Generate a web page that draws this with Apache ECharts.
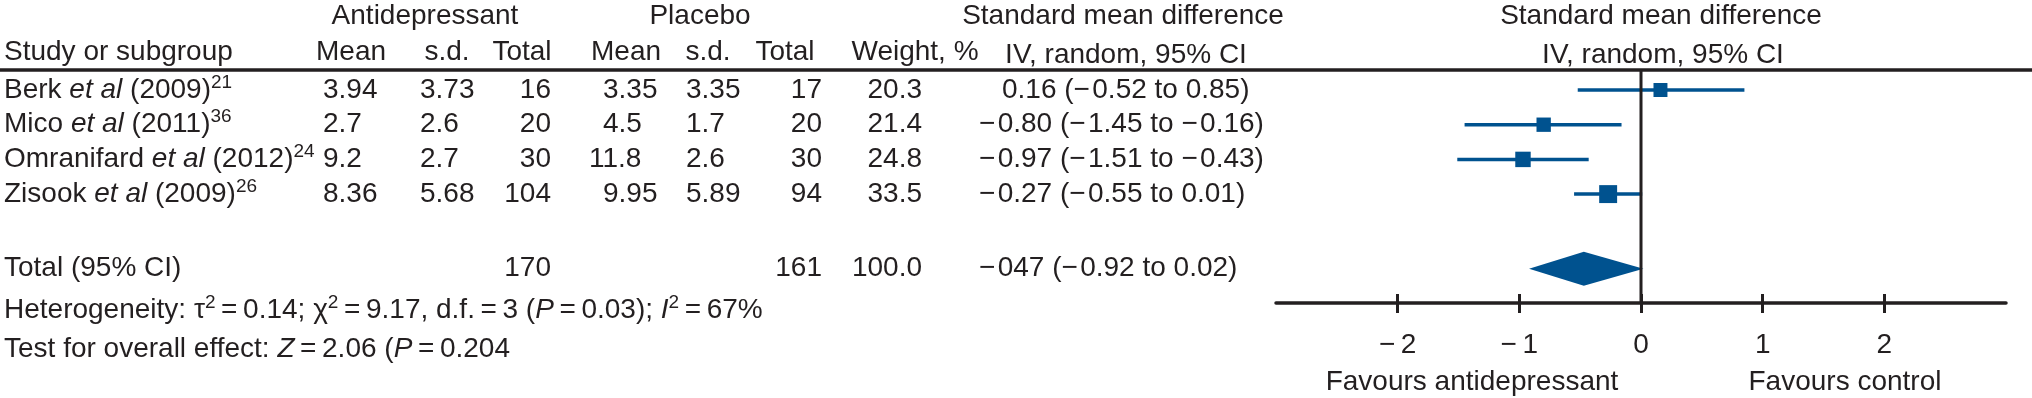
<!DOCTYPE html>
<html>
<head>
<meta charset="utf-8">
<script src="https://cdn.jsdelivr.net/npm/echarts@6.0.0/dist/echarts.min.js"></script>
<style>
html, body { margin: 0; padding: 0; background: #fff; }
#cn { width: 2032px; height: 398px; }
</style>
</head>
<body>
<div id="cn"></div>
<script>
'use strict';

// studies
const studyNames = ['Berk', 'Mico', 'Omranifard', 'Zisook'];
const studyYears = ['2009', '2011', '2012', '2009'];
const studyRefs = ['21', '36', '24', '26'];

// antidepressant arm
const antiMean = [3.94, 2.7, 9.2, 8.36];
const antiSd = [3.73, 2.6, 2.7, 5.68];
const antiN = [16, 20, 30, 104];

// placebo arm
const plaMean = [3.35, 4.5, 11.8, 9.95];
const plaSd = [3.35, 1.7, 2.6, 5.89];
const plaN = [17, 20, 30, 94];

// SMD, 95% CI, weight
const weight = [20.3, 21.4, 24.8, 33.5];
const smd = [0.16, -0.80, -0.97, -0.27];
const ciLow = [-0.52, -1.45, -1.51, -0.55];
const ciHigh = [0.85, -0.16, -0.43, 0.01];

// totals
const totalN = [170, 161];
const totalWeight = 100.0;
const pooled = [-0.47, -0.92, 0.02]; // est, low, high
const pooledText = '\u2212\u200a047 (\u2212\u200a0.92 to 0.02)'; // as printed

const xTicks = [-2, -1, 0, 1, 2];

const FONT = "'Liberation Sans', Arial, sans-serif";
const FS = 28;
const ink = '#231f20';
const blue = '#00528f';

// row layout
const rowTop = 90, rowH = 34.7;
const rowY = r => rowTop + r * rowH;
const totalRow = 5.15;
const gridTop = 70, gridBottomY = 303;

const rich = {
    i: { fontStyle: 'italic', fontSize: FS, fontFamily: FONT, fill: ink, lineHeight: 34 },
    sup: { fontSize: 19, fontFamily: FONT, fill: ink, verticalAlign: 'top' }
};

const txt = (text, x, y, align) => ({
    type: 'text',
    x: x,
    y: y,
    silent: true,
    style: {
        text: text,
        fill: ink,
        fontSize: FS,
        fontFamily: FONT,
        lineHeight: 34,
        align: align,
        textAlign: align,
        verticalAlign: 'middle',
        textVerticalAlign: 'middle',
        rich: rich
    }
});

const minus = v => (v < 0 ? '\u2212\u200a' : '') + Math.abs(v).toFixed(2);
const ciLabel = i => `${minus(smd[i])} (${minus(ciLow[i])} to ${minus(ciHigh[i])})`;

let graphics = [];

// header
graphics.push(txt('Antidepressant', 425, 16, 'center'));
graphics.push(txt('Placebo', 700, 16, 'center'));
graphics.push(txt('Standard mean difference', 1123, 16, 'center'));
graphics.push(txt('Standard mean difference', 1661, 16, 'center'));

graphics.push(txt('Study or subgroup', 4, 52, 'left'));
graphics.push(txt('Mean', 351, 52, 'center'));
graphics.push(txt('s.d.', 447, 52, 'center'));
graphics.push(txt('Total', 522, 52, 'center'));
graphics.push(txt('Mean', 626, 52, 'center'));
graphics.push(txt('s.d.', 708, 52, 'center'));
graphics.push(txt('Total', 785, 52, 'center'));
graphics.push(txt('Weight, %', 915, 52, 'center'));
graphics.push(txt('IV, random, 95% CI', 1126, 55, 'center'));
graphics.push(txt('IV, random, 95% CI', 1663, 55, 'center'));

// top rule
graphics.push({
    type: 'line',
    silent: true,
    shape: { x1: 0, y1: gridTop, x2: 2032, y2: gridTop },
    style: { stroke: ink, lineWidth: 3.5 }
});

// study rows
studyNames.forEach((name, i) => {
    const y = rowY(i);
    graphics.push(txt(`${name} {i|et al} (${studyYears[i]}){sup|${studyRefs[i]}}`, 4, y, 'left'));
    graphics.push(txt(String(antiMean[i]), 323, y, 'left'));
    graphics.push(txt(String(antiSd[i]), 420, y, 'left'));
    graphics.push(txt(String(antiN[i]), 551, y, 'right'));
    graphics.push(txt(String(plaMean[i]), plaMean[i] >= 10 ? 589 : 603, y, 'left'));
    graphics.push(txt(String(plaSd[i]), 686, y, 'left'));
    graphics.push(txt(String(plaN[i]), 822, y, 'right'));
    graphics.push(txt(weight[i].toFixed(1), 922, y, 'right'));
    graphics.push(txt(ciLabel(i), smd[i] < 0 ? 979 : 1002, y, 'left'));
});

// totals
const yT = rowY(totalRow);
graphics.push(txt('Total (95% CI)', 4, yT, 'left'));
graphics.push(txt(String(totalN[0]), 551, yT, 'right'));
graphics.push(txt(String(totalN[1]), 822, yT, 'right'));
graphics.push(txt(totalWeight.toFixed(1), 922, yT, 'right'));
graphics.push(txt(pooledText, 979, yT, 'left'));

graphics.push(txt('Heterogeneity: \u03c4{sup|2}\u2009=\u20090.14; \u03c7{sup|2}\u2009=\u20099.17, d.f.\u2009=\u20093 ({i|P}\u2009=\u20090.03); {i|I}{sup|2}\u2009=\u200967%', 4, 310, 'left'));
graphics.push(txt('Test for overall effect: {i|Z}\u2009=\u20092.06 ({i|P}\u2009=\u20090.204', 4, 349, 'left'));

// favours
graphics.push(txt('Favours antidepressant', 1472, 382, 'center'));
graphics.push(txt('Favours control', 1845, 382, 'center'));

const yMin = (gridTop - rowTop) / rowH;
const yMax = (gridBottomY - rowTop) / rowH;

const chart = echarts.init(document.getElementById('cn'), null, { renderer: 'canvas' });

const option = {
    animation: false,
    backgroundColor: '#fff',
    grid: {
        left: 1276,
        right: 26,
        top: gridTop,
        height: gridBottomY - gridTop
    },
    xAxis: [{
            type: 'value',
            min: -3,
            max: 3,
            position: 'bottom',
            splitLine: { show: false },
            axisLine: { show: true, onZero: false, lineStyle: { color: ink, width: 3.5 } },
            axisTick: {
                show: true,
                customValues: xTicks,
                length: 10,
                lineStyle: { color: ink, width: 3 }
            },
            axisLabel: {
                show: true,
                customValues: xTicks,
                margin: 28,
                color: ink,
                fontSize: FS,
                fontFamily: FONT,
                formatter: v => v < 0 ? '\u2212\u2009' + Math.abs(v) : String(v)
            }
        },
        {
            type: 'value',
            min: -3,
            max: 3,
            position: 'bottom',
            splitLine: { show: false },
            axisLine: { show: false, onZero: false },
            axisTick: {
                show: true,
                inside: true,
                customValues: xTicks,
                length: 9,
                lineStyle: { color: ink, width: 3 }
            },
            axisLabel: { show: false }
        }
    ],
    yAxis: {
        type: 'value',
        inverse: true,
        min: yMin,
        max: yMax,
        show: false
    },
    series: [{
            // zero line
            type: 'line',
            data: [[0, yMin], [0, yMax]],
            showSymbol: false,
            symbol: 'none',
            silent: true,
            lineStyle: { color: ink, width: 3 }
        },
        {
            type: 'custom',
            data: studyNames.map((n, i) => [i, ciLow[i], ciHigh[i], smd[i], weight[i]]),
            silent: true,
            renderItem: (params, api) => {
                const r = api.value(0);
                const a = api.coord([api.value(1), r]);
                const b = api.coord([api.value(2), r]);
                const m = api.coord([api.value(3), r]);
                const s = 3.1 * Math.sqrt(api.value(4));
                return {
                    type: 'group',
                    children: [{
                            type: 'line',
                            shape: { x1: a[0], y1: a[1], x2: b[0], y2: b[1] },
                            style: { stroke: blue, lineWidth: 3.5 }
                        },
                        {
                            type: 'rect',
                            shape: { x: m[0] - s / 2, y: m[1] - s / 2, width: s, height: s },
                            style: { fill: blue }
                        }
                    ]
                };
            }
        },
        {
            type: 'custom',
            data: [[totalRow, pooled[1], pooled[2], pooled[0]]],
            silent: true,
            renderItem: (params, api) => {
                const r = api.value(0);
                const a = api.coord([api.value(1), r]);
                const b = api.coord([api.value(2), r]);
                const m = api.coord([api.value(3), r]);
                const h = 17;
                return {
                    type: 'polygon',
                    shape: { points: [[a[0], a[1]], [m[0], m[1] - h], [b[0], b[1]], [m[0], m[1] + h]] },
                    style: { fill: blue }
                };
            }
        }
    ],
    graphic: { elements: graphics }
};

chart.setOption(option);
</script>
</body>
</html>
